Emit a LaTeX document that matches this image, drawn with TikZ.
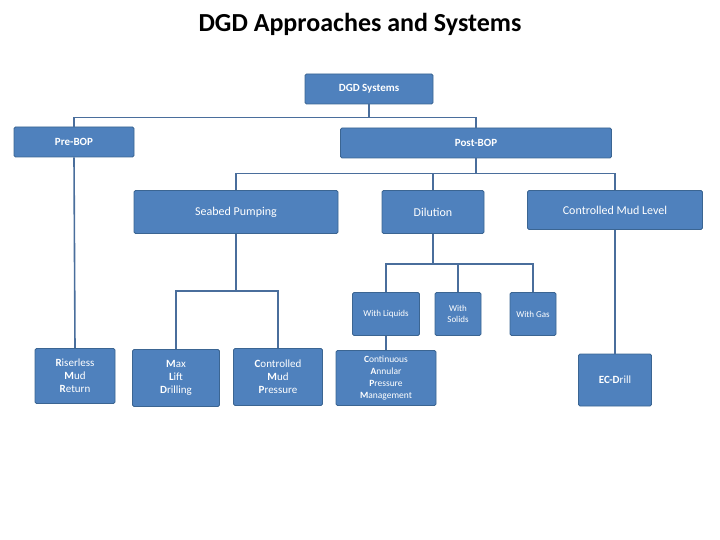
\documentclass[tikz,border=0pt]{standalone}
\usepackage{fontspec}
\setmainfont{Carlito}
\usetikzlibrary{positioning}
\definecolor{boxblue}{HTML}{4F81BD}
\definecolor{boxedge}{HTML}{3B6592}
\definecolor{linkblue}{HTML}{4A6E9C}
\tikzset{
  box/.style={draw=boxedge, fill=boxblue, rounded corners=1.5pt, text=white, align=center, inner sep=0pt, line width=0.8pt},
  link/.style={draw=linkblue, line width=1.6pt},
}
\begin{document}
\begin{tikzpicture}[x=1pt, y=-1pt]
	\useasboundingbox (0,0) rectangle (720,540);

	\node[font=\bfseries\fontsize{26}{30}\selectfont] (title) at (360,24) {DGD Approaches and Systems};

	% upper levels
	\node[box, minimum width=128pt, minimum height=30pt, font=\bfseries\fontsize{11}{13}\selectfont] (dgd) at (369,89) {DGD Systems};
	\node[box, minimum width=120pt, minimum height=30pt, font=\bfseries\fontsize{11}{13}\selectfont] (pre) at (74,142) {Pre-BOP};
	\node[box, minimum width=271pt, minimum height=30pt, font=\bfseries\fontsize{11}{13}\selectfont] (post) at (476,143) {Post-BOP};

	\node[box, minimum width=204pt, minimum height=43pt, font=\fontsize{12}{14}\selectfont] (seabed) at (236,212) {Seabed Pumping};
	\node[box, minimum width=102pt, minimum height=43pt, font=\fontsize{12}{14}\selectfont] (dilution) at (433,212) {Dilution};
	\node[box, minimum width=175pt, minimum height=39pt, font=\fontsize{12}{14}\selectfont] (cml) at (615,210) {Controlled Mud Level};

	% dilution types
	\node[box, minimum width=67pt, minimum height=43pt, font=\fontsize{9}{11}\selectfont] (liquids) at (386,314) {With Liquids};
	\node[box, minimum width=46pt, minimum height=43pt, font=\fontsize{9}{11}\selectfont] (solids) at (458,314) {With\\Solids};
	\node[box, minimum width=46pt, minimum height=43pt, font=\fontsize{9}{11}\selectfont] (gas) at (533,314) {With Gas};

	% systems
	\node[box, minimum width=80pt, minimum height=55pt, font=\fontsize{11}{13}\selectfont] (rmr) at (75,376) {\textbf{R}iserless\\\textbf{M}ud\\\textbf{R}eturn};
	\node[box, minimum width=87pt, minimum height=57pt, font=\fontsize{11}{13}\selectfont] (mld) at (176,378) {\textbf{M}ax\\\textbf{L}ift\\\textbf{D}rilling};
	\node[box, minimum width=89pt, minimum height=57pt, font=\fontsize{11}{13}\selectfont] (cmp) at (278,377) {\textbf{C}ontrolled\\\textbf{M}ud\\\textbf{P}ressure};
	\node[box, minimum width=100pt, minimum height=55pt, font=\fontsize{9.5}{12}\selectfont] (capm) at (386,378) {\textbf{C}ontinuous\\\textbf{A}nnular\\\textbf{P}ressure\\\textbf{M}anagement};
	\node[box, minimum width=73pt, minimum height=52pt, font=\fontsize{11}{13}\selectfont] (ecd) at (615,380) {\textbf{EC-D}rill};

	% connectors
	\draw[link] (dgd.south) -- ++(0,13) -| (pre.north);
	\draw[link] (dgd.south) -- ++(0,13) -| (post.north);
	\draw[link] (post.south) -- ++(0,15) -| (seabed.north);
	\draw[link] (post.south) -- ++(0,15) -| (dilution.north);
	\draw[link] (post.south) -- ++(0,15) -| (cml.north);
	\draw[link] (seabed.south) -- ++(0,57) -| (mld.north);
	\draw[link] (seabed.south) -- ++(0,57) -| (cmp.north);
	\draw[link] (dilution.south) -- ++(0,30) -| (liquids.north);
	\draw[link] (dilution.south) -- ++(0,30) -| (solids.north);
	\draw[link] (dilution.south) -- ++(0,30) -| (gas.north);
	\draw[link] (pre.south) -- (rmr.north);
	\draw[link] (cml.south) -- (ecd.north);
	\draw[link] (liquids.south) -- (capm.north);
\end{tikzpicture}
\end{document}
